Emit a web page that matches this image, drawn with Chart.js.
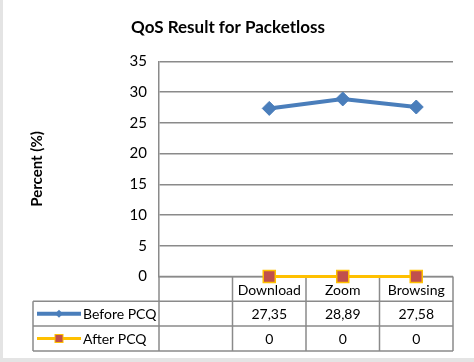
<!DOCTYPE html>
<html lang="en">
<head>
  <meta charset="UTF-8" />
  <title>QoS Result for Packetloss</title>
  <script src="https://cdn.jsdelivr.net/npm/chart.js"></script>
  <style>
    body {
      margin: 0;
      background: #e4e4e4;
      font-family: Lato, sans-serif;
    }
    .frame {
      position: absolute;
      left: 3px;
      top: 0;
      width: 471px;
      height: 358px;
      background: white;
    }
  </style>
</head>
<body>
  <div class="frame"><canvas id="chart" width="471" height="358"></canvas></div>
  <script>
    const categories = ["", "Download", "Zoom", "Browsing"];
    const beforePCQ = [null, 27.35, 28.89, 27.58];
    const afterPCQ = [null, 0, 0, 0];
    const yTicks = [0, 5, 10, 15, 20, 25, 30, 35];

    const gridColor = '#8a8a8a';
    const blue = '#4a7ebb';
    const yellow = '#ffc000';
    const red = '#c0504d';

    function fmt(v) {
      return v === null ? '' : String(v).replace('.', ',');
    }

    // data table under the plot, laid out on the x scale's columns
    const dataTable = {
      id: 'dataTable',
      beforeDatasetsDraw(chart) {
        const ctx = chart.ctx;
        const xs = chart.scales.x;
        const n = categories.length;
        const colW = xs.width / n;
        const top = chart.chartArea.bottom;
        const rowH = 24.8;
        const tableLeft = 30;
        const right = xs.left + colW * n;

        ctx.save();
        ctx.strokeStyle = gridColor;
        ctx.lineWidth = 1.5;
        ctx.beginPath();
        ctx.moveTo(xs.left, top);
        ctx.lineTo(right, top);
        for (let r = 1; r <= 3; r++) {
          ctx.moveTo(tableLeft, top + r * rowH);
          ctx.lineTo(right, top + r * rowH);
        }
        for (let i = 0; i <= n; i++) {
          const x = xs.left + i * colW;
          ctx.moveTo(x, top);
          ctx.lineTo(x, top + 3 * rowH);
        }
        ctx.moveTo(tableLeft, top + rowH);
        ctx.lineTo(tableLeft, top + 3 * rowH);
        ctx.stroke();

        ctx.fillStyle = '#000';
        ctx.font = '14px Lato, sans-serif';
        ctx.textAlign = 'center';
        ctx.textBaseline = 'middle';
        categories.forEach((c, i) => {
          const cx = xs.getPixelForValue(i);
          ctx.fillText(c, cx, top + rowH * 0.5 + 2);
          ctx.fillText(fmt(beforePCQ[i]), cx, top + rowH * 1.5 + 1);
          ctx.fillText(fmt(afterPCQ[i]), cx, top + rowH * 2.5 + 1);
        });

        // legend keys
        const sets = chart.data.datasets;
        sets.forEach((ds, r) => {
          const y = top + rowH * (r + 1.5);
          ctx.strokeStyle = ds.borderColor;
          ctx.lineWidth = ds.borderWidth;
          ctx.beginPath();
          ctx.moveTo(tableLeft + 4, y);
          ctx.lineTo(tableLeft + 48, y);
          ctx.stroke();
          ctx.fillStyle = ds.pointBackgroundColor;
          ctx.strokeStyle = ds.pointBorderColor;
          ctx.lineWidth = 1;
          if (r === 0) {
            ctx.beginPath();
            ctx.moveTo(tableLeft + 26, y - 4);
            ctx.lineTo(tableLeft + 30, y);
            ctx.lineTo(tableLeft + 26, y + 4);
            ctx.lineTo(tableLeft + 22, y);
            ctx.closePath();
            ctx.fill();
          } else {
            ctx.fillRect(tableLeft + 22, y - 4, 8, 8);
            ctx.strokeRect(tableLeft + 22, y - 4, 8, 8);
          }
          ctx.fillStyle = '#000';
          ctx.textAlign = 'left';
          ctx.fillText(ds.label, tableLeft + 50, y + 1);
        });
        ctx.restore();
      }
    };

    new Chart(document.getElementById('chart'), {
      type: 'line',
      data: {
        labels: categories,
        datasets: [
          {
            label: 'Before PCQ',
            data: beforePCQ,
            borderColor: blue,
            borderWidth: 4,
            pointStyle: 'rectRot',
            pointRadius: 7,
            pointBackgroundColor: blue,
            pointBorderColor: blue,
            pointBorderWidth: 1,
            clip: false
          },
          {
            label: 'After PCQ',
            data: afterPCQ,
            borderColor: yellow,
            borderWidth: 3,
            pointStyle: 'rect',
            pointRadius: 8.5,
            pointBackgroundColor: red,
            pointBorderColor: yellow,
            pointBorderWidth: 1.5,
            clip: false
          }
        ]
      },
      options: {
        responsive: false,
        animation: false,
        layout: { padding: { left: 0, right: 21, top: 0, bottom: 81.5 } },
        plugins: {
          legend: { display: false },
          tooltip: { enabled: false },
          title: {
            display: true,
            text: 'QoS Result for Packetloss',
            color: '#000',
            font: { family: 'Lato, sans-serif', size: 17, weight: 'bold' },
            padding: { top: 17, bottom: 24 }
          }
        },
        scales: {
          x: {
            display: false,
            offset: true
          },
          y: {
            min: 0,
            max: 35,
            afterBuildTicks(scale) {
              scale.ticks = yTicks.map(v => ({ value: v }));
            },
            afterFit(scale) {
              scale.width = 156;
            },
            grid: { color: gridColor, lineWidth: 1.5, drawTicks: false },
            border: { color: gridColor, width: 1.5 },
            ticks: {
              color: '#000',
              font: { family: 'Lato, sans-serif', size: 15 },
              padding: 12
            },
            title: {
              display: true,
              text: 'Percent (%)',
              color: '#000',
              font: { family: 'Lato, sans-serif', size: 15, weight: 'bold' },
              padding: { top: 25, bottom: 4 }
            }
          }
        }
      },
      plugins: [dataTable]
    });
  </script>
</body>
</html>
